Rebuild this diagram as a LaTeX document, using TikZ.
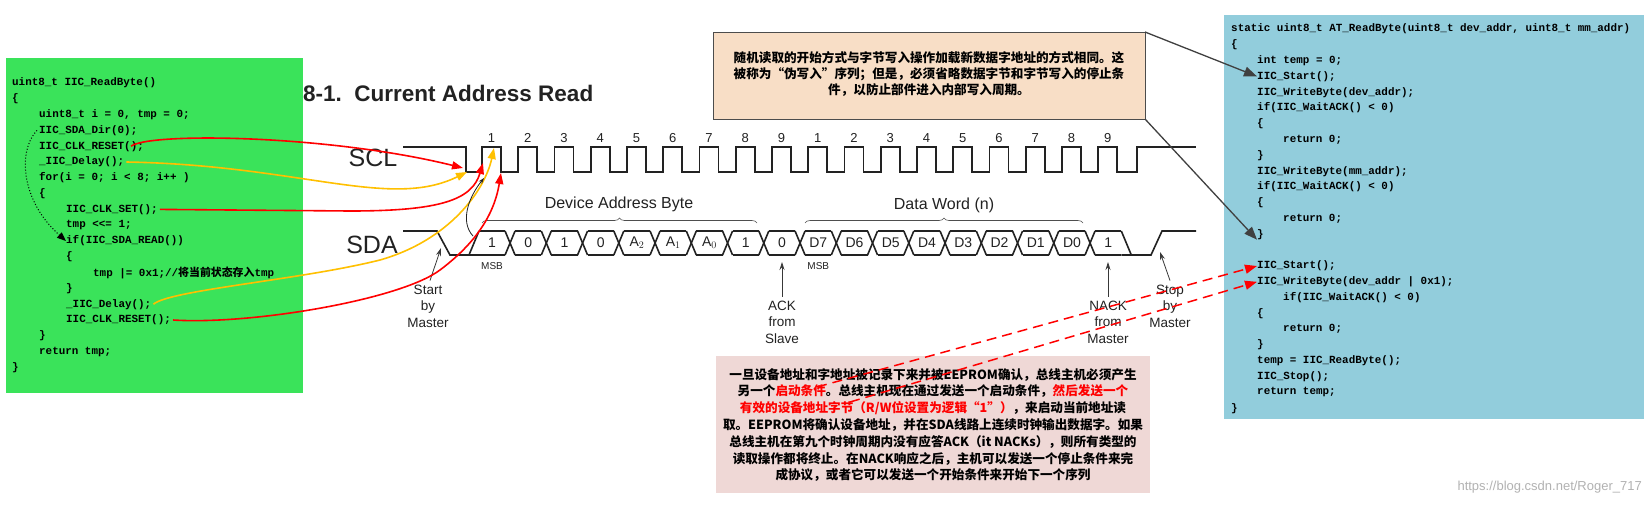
\documentclass[tikz,border=0pt]{standalone}
\usepackage{fontspec}
\setmainfont{Liberation Sans}
\newfontfamily\codefont{Liberation Mono}[BoldFont=* Bold]
\newfontfamily\cjk{Noto Sans CJK SC}
\usetikzlibrary{arrows.meta,decorations.pathreplacing}
\definecolor{gbox}{HTML}{3AE35A}
\definecolor{bbox}{HTML}{92CDDC}
\definecolor{pbox}{HTML}{F8DEC6}
\definecolor{rbox}{HTML}{EFD8D6}
\definecolor{ylw}{HTML}{FFC000}
\definecolor{ink}{HTML}{222222}
\newcommand\cl[4]{\node[code] (#1) at (#2,#3) {#4};}
\begin{document}
\begin{tikzpicture}[x=1pt,y=-1pt,
  code/.style={anchor=west,inner sep=0pt,font=\codefont\bfseries\fontsize{10.9}{12}\selectfont},
  sig/.style={line width=1.6pt,ink,line join=miter},
  lbl/.style={inner sep=0pt,text=ink,font=\fontsize{13}{14}\selectfont},
  bit/.style={inner sep=0pt,text=ink,font=\fontsize{14}{15}\selectfont},
  small/.style={inner sep=0pt,text=ink,font=\fontsize{10}{11}\selectfont},
  note/.style={inner sep=0pt,text=ink,align=center,font=\fontsize{13.5}{16.5}\selectfont},
  ptr/.style={line width=0.8pt,ink!90,-{Stealth[length=8pt,width=5pt]}},
  curv/.style={line width=1.6pt,-{Triangle[length=11pt,width=8pt]}},
  call/.style={line width=1.3pt,black!75,-{Triangle[length=13pt,width=10pt]}},
  dsh/.style={line width=1.5pt,red,dash pattern=on 10pt off 6pt,-{Triangle[length=12pt,width=9pt]}},
  cn/.style={inner sep=0pt,align=center,font=\cjk\bfseries\fontsize{12.6}{16}\selectfont}]
\useasboundingbox (0,0) rectangle (1652,504);
\fill[white] (0,0) rectangle (1652,504);
% boxes
\fill[gbox] (6,58) rectangle (303,393);
\fill[bbox] (1224,15) rectangle (1644,419);
\draw[fill=pbox,draw=black!70,line width=0.8pt] (713,32) rectangle (1145,119);
\fill[rbox] (716,356) rectangle (1150,493);
% title
\node[anchor=west,inner sep=0pt,font=\bfseries\fontsize{22.5}{24}\selectfont,text=ink] (title) at (303,93) {8-1.\ \ Current Address Read};
% SCL / SDA labels
\node[inner sep=0pt,font=\fontsize{25}{26}\selectfont,text=ink] (scl) at (373,158) {SCL};
\node[inner sep=0pt,font=\fontsize{25}{26}\selectfont,text=ink] (sda) at (372,245) {SDA};
% SCL waveform
\def\pw{36.25}
\draw[sig] (403,147) -- (466,147) -- (466,172)
  \foreach \n in {0,...,17}{ -- ({482+\pw*\n},172) -- ({482+\pw*\n},147) -- ({501+\pw*\n},147) -- ({501+\pw*\n},172)}
  -- (1137,172) -- (1137,147) -- (1196,147);
\foreach \n/\t in {0/1,1/2,2/3,3/4,4/5,5/6,6/7,7/8,8/9,9/1,10/2,11/3,12/4,13/5,14/6,15/7,16/8,17/9}
  \node[lbl] (p\n) at ({491.5+\pw*\n},138) {\t};
% SDA waveform
\def\d{5}
\draw[sig] (403,231) -- (437,231) -- (450,255) -- ({474-\d},255) -- ({474+\d},255);
\draw[sig] ({474-\d},255) -- ({474+\d},231);
\foreach \m in {0,...,17}{
  \pgfmathsetmacro\L{473.8+\pw*\m}
  \pgfmathsetmacro\R{\L+\pw}
  \draw[sig] ({\L+\d},231) -- ({\R-\d},231);
  \draw[sig] ({\L+\d},255) -- ({\R-\d},255);
  \draw[sig] ({\R-\d},231) -- ({\R+\d},255);
  \ifnum\m<17 \draw[sig] ({\R-\d},255) -- ({\R+\d},231); \fi
}
\draw[sig] ({473.8+\pw*18-\d},255) -- (1151,255) -- (1162,231) -- (1196,231);
\foreach \m/\t in {0/1,1/0,2/1,3/0,4/A$_2$,5/A$_1$,6/A$_0$,7/1,8/0,9/D7,10/D6,11/D5,12/D4,13/D3,14/D2,15/D1,16/D0,17/1}
  \node[bit] (b\m) at ({492+\pw*\m},243) {\t};
\node[small] (msb1) at (492,266) {MSB};
\node[small] (msb2) at ({492+9*\pw},266) {MSB};
% braces
\draw[ink!80,line width=0.6pt,decorate,decoration={brace,amplitude=5pt}] (482,223) -- (757,223);
\node[inner sep=0pt,text=ink,font=\fontsize{16}{17}\selectfont] (dab) at (619,204) {Device Address Byte};
\draw[ink!80,line width=0.6pt,decorate,decoration={brace,amplitude=5pt}] (805,223) -- (1083,223);
\node[inner sep=0pt,text=ink,font=\fontsize{16}{17}\selectfont] (dwn) at (944,205) {Data Word (n)};
% annotation labels
\node[note] (start) at (428,306) {Start\\by\\Master};
\node[note] (ack) at (782,322) {ACK\\from\\Slave};
\node[note] (nack) at (1108,322) {NACK\\from\\Master};
\node[note] (stop) at (1170,306) {Stop\\by\\Master};
\coordinate (st) at (441,248); \coordinate (ak) at (782,262);
\coordinate (nk) at (1108,262); \coordinate (sp) at (1160,252);
\draw[ptr] (start.north) ++(2,-4) -- (st);
\draw[ptr] (ack.north) ++(0,-4) -- (ak);
\draw[ptr] (nack.north) ++(0,-4) -- (nk);
\draw[ptr] (stop.north) ++(0,-4) -- (sp);
% top note
\node[cn] (topnote) at (929,74) {随机读取的开始方式与字节写入操作加载新数据字地址的方式相同。这\\被称为“伪写入”序列；但是，必须省略数据字节和字节写入的停止条\\件，以防止部件进入内部写入周期。};
% bottom note
\node[cn,font=\cjk\bfseries\fontsize{12.6}{16.8}\selectfont] (botnote) at (933,425) {一旦设备地址和字地址被记录下来并被EEPROM确认，总线主机必须产生\\另一个\textcolor{red}{启动条件}。总线主机现在通过发送一个启动条件，\textcolor{red}{然后发送一个}\\\textcolor{red}{有效的设备地址字节（R/W位设置为逻辑“1”）}，来启动当前地址读\\取。EEPROM将确认设备地址，并在SDA线路上连续时钟输出数据字。如果\\总线主机在第九个时钟周期内没有应答ACK（it NACKs），则所有类型的\\读取操作都将终止。在NACK响应之后，主机可以发送一个停止条件来完\\成协议，或者它可以发送一个开始条件来开始下一个序列};
% left code
\cl{g1}{12}{83}{uint8\_t IIC\_ReadByte()}
\cl{g2}{12}{98.8}{\{}
\cl{g3}{39}{114.6}{uint8\_t i = 0, tmp = 0;}
\cl{g4}{39}{130.4}{IIC\_SDA\_Dir(0);}
\cl{g5}{39}{146.2}{IIC\_CLK\_RESET();}
\cl{g6}{39}{162}{\_IIC\_Delay();}
\cl{g7}{39}{177.8}{for(i = 0; i < 8; i++ )}
\cl{g8}{39}{193.6}{\{}
\cl{g9}{66}{209.4}{IIC\_CLK\_SET();}
\cl{g10}{66}{225.2}{tmp <<= 1;}
\cl{g11}{66}{241}{if(IIC\_SDA\_READ())}
\cl{g12}{66}{256.8}{\{}
\cl{g13}{93}{272.6}{tmp |= 0x1;//{\cjk\bfseries 将当前状态存入}tmp}
\cl{g14}{66}{288.4}{\}}
\cl{g15}{66}{304.2}{\_IIC\_Delay();}
\cl{g16}{66}{320}{IIC\_CLK\_RESET();}
\cl{g17}{39}{335.8}{\}}
\cl{g18}{39}{351.6}{return tmp;}
\cl{g19}{12}{367.4}{\}}
% right code
\cl{r0}{1231}{29}{static uint8\_t AT\_ReadByte(uint8\_t dev\_addr, uint8\_t mm\_addr)}
\cl{r1}{1231}{44.8}{\{}
\cl{r2}{1257}{60.6}{int temp = 0;}
\cl{r3}{1257}{76.4}{IIC\_Start();}
\cl{r4}{1257}{92.2}{IIC\_WriteByte(dev\_addr);}
\cl{r5}{1257}{108}{if(IIC\_WaitACK() < 0)}
\cl{r6}{1257}{123.8}{\{}
\cl{r7}{1283}{139.6}{return 0;}
\cl{r8}{1257}{155.4}{\}}
\cl{r9}{1257}{171.2}{IIC\_WriteByte(mm\_addr);}
\cl{r10}{1257}{187}{if(IIC\_WaitACK() < 0)}
\cl{r11}{1257}{202.8}{\{}
\cl{r12}{1283}{218.6}{return 0;}
\cl{r13}{1257}{234.4}{\}}
\cl{r15}{1257}{266}{IIC\_Start();}
\cl{r16}{1257}{281.8}{IIC\_WriteByte(dev\_addr | 0x1);}
\cl{r17}{1283}{297.6}{if(IIC\_WaitACK() < 0)}
\cl{r18}{1257}{313.4}{\{}
\cl{r19}{1283}{329.2}{return 0;}
\cl{r20}{1257}{345}{\}}
\cl{r21}{1257}{360.8}{temp = IIC\_ReadByte();}
\cl{r22}{1257}{376.6}{IIC\_Stop();}
\cl{r23}{1257}{392.4}{return temp;}
\cl{r24}{1231}{408.2}{\}}
% callout arrows
\coordinate (c1) at (1145,32); \coordinate (c2) at (1145,119);
\draw[call] (c1) -- (r3.west);
\draw[call] (c2) -- (r13.south west);
% red dashed
\coordinate (d1) at (817,387); \coordinate (d2) at (850,402);
\draw[dsh] (d1) -- (r15.west);
\draw[dsh] (d2) -- (r16.west);
% curves
\draw[curv,red] ([xshift=-13pt]g5.east) .. controls (150,132) and (330,135) .. (463,168);
\draw[curv,ylw] ([xshift=2pt]g6.east) .. controls (300,165) and (390,210) .. (467,172);
\draw[curv,red] ([xshift=2pt]g9.east) -- (350,211) .. controls (440,211) and (472,200) .. (483,163);
\draw[curv,ylw] ([xshift=2pt]g15.east) .. controls (170,290) and (300,280) .. (380,260) .. controls (450,240) and (485,190) .. (494,148);
\draw[curv,red] ([xshift=2pt]g16.east) .. controls (250,325) and (400,300) .. (440,270) .. controls (480,240) and (495,210) .. (501,173);
\draw[line width=0.8pt,ink,-{Stealth[length=6pt,width=4pt]}] (473,236) .. controls (460,222) and (468,198) .. (484,178);
\draw[line width=1pt,dotted,black,-{Triangle[length=9pt,width=7pt]}] ([xshift=-2pt]g4.west) .. controls (18,150) and (20,200) .. (g11.west);
% watermark
\node[anchor=east,inner sep=0pt,text=black!30,font=\fontsize{13}{14}\selectfont] (wm) at (1642,487) {https://blog.csdn.net/Roger\_717};
\end{tikzpicture}
\end{document}
